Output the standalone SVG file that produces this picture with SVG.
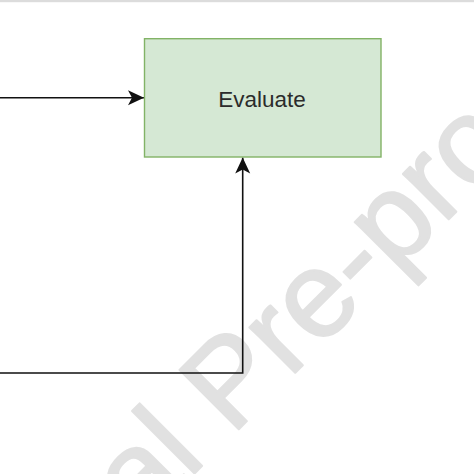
<svg xmlns="http://www.w3.org/2000/svg" width="474" height="474" viewBox="0 0 474 474">
<style>
.wm{font-family:"Liberation Sans",Arial,sans-serif;font-size:122px;fill:#e1e1e1;stroke:#e1e1e1;stroke-width:2;stroke-linejoin:round}
.node rect{fill:#d5e8d4;stroke:#82b366;stroke-width:1.4}
.label{font-family:"Liberation Sans",Arial,sans-serif;font-size:22.5px;fill:#2b2b2b;text-anchor:middle}
.conn{fill:none;stroke:#111;stroke-width:1.6}
</style>
<defs>
<marker id="arr" viewBox="0 0 16 16" refX="16" refY="8" markerWidth="16" markerHeight="16" markerUnits="userSpaceOnUse" orient="auto">
<path d="M0,0.5 L16,8 L0,15.5 L4,8 Z" fill="#111"/>
</marker>
</defs>
<rect x="0" y="0" width="474" height="474" fill="#fff"/>
<rect x="0" y="0" width="474" height="2.2" fill="#dcdcdc"/>
<text class="wm" transform="translate(231.8,436.2) rotate(-45)" x="-434">Journal Pre-proof</text>
<g id="connectors">
<path class="conn" d="M0,97.7 L144,97.7" marker-end="url(#arr)"/>
<path class="conn" d="M0,373 L242.7,373 L242.7,157.5" marker-end="url(#arr)"/>
</g>
<g id="evaluate" class="node">
<rect x="144.5" y="38.7" width="236.5" height="118.3"/>
<text class="label" x="262" y="106.5">Evaluate</text>
</g>
</svg>
